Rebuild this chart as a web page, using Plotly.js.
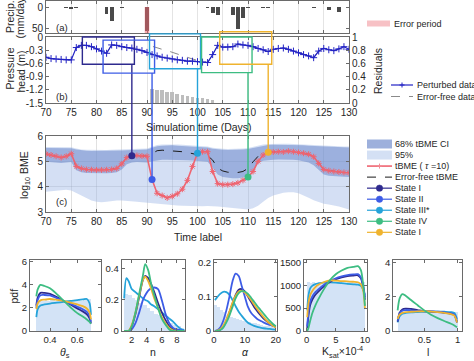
<!DOCTYPE html>
<html><head><meta charset="utf-8">
<script src="https://cdn.plot.ly/plotly-3.0.1.min.js"></script>
<style>html,body{margin:0;padding:0;background:#fff}#chart{width:474px;height:361px}</style>
</head><body><div id="chart"></div>
<script>
// ================= DATA =================
const days = [70,71,72,73,74,75,76,77,78,79,80,81,82,83,84,85,86,87,88,89,90,91,92,93,94,95,96,97,98,99,100,101,102,103,104,105,106,107,108,109,110,111,112,113,114,115,116,117,118,119,120,121,122,123,124,125,126,127,128,129,130];
const dayTicks = [70,75,80,85,90,95,100,105,110,115,120,125,130];

// (a) precipitation
const precipDays = [74,75,76,82,83,85,90,102,103,104,107,108,109,110,113,114,123,126,128];
const precipVals = [2,4,3,17,33,3,57,2,15,19,18,52,25,2,1.5,1.5,3,7,13];
const errorDay = 90;

// (b) pressure head & residuals
const perturbed = [-0.46,-0.49,-0.5,-0.51,-0.52,-0.52,-0.24,-0.19,-0.19,-0.22,
 -0.27,-0.32,-0.37,-0.18,-0.19,-0.22,-0.24,-0.25,-0.28,-0.31,
 -0.35,-0.4,-0.43,-0.46,-0.48,-0.5,-0.52,-0.53,-0.55,-0.55,
 -0.56,-0.57,-0.58,-0.4,-0.19,-0.23,-0.23,-0.22,-0.16,-0.18,
 -0.19,-0.22,-0.26,-0.29,-0.33,-0.28,-0.26,-0.25,-0.28,-0.32,
 -0.36,-0.4,-0.43,-0.47,-0.32,-0.26,-0.29,-0.31,-0.27,-0.22,
 -0.28];
const errorFree = [-0.46,-0.49,-0.5,-0.51,-0.52,-0.52,-0.24,-0.19,-0.19,-0.22,
 -0.27,-0.32,-0.37,-0.18,-0.19,-0.22,-0.24,-0.25,-0.28,-0.31,
 -0.35,-0.21,-0.25,-0.28,-0.31,-0.35,-0.38,-0.42,-0.46,-0.5,
 -0.53,-0.56,-0.58,-0.4,-0.19,-0.23,-0.23,-0.22,-0.16,-0.18,
 -0.19,-0.22,-0.26,-0.29,-0.33,-0.28,-0.26,-0.25,-0.28,-0.32,
 -0.36,-0.4,-0.43,-0.47,-0.32,-0.26,-0.29,-0.31,-0.27,-0.22,
 -0.28];
const residDays = [91,92,93,94,95,96,97,98,99,100,101,102,103];
const residVals = [0.21,0.2,0.19,0.17,0.16,0.14,0.12,0.1,0.09,0.08,0.07,0.06,0.05];

// (c) tBME
const tBME = [5.29,5.25,5.2,5.15,5.2,5.3,4.8,4.72,4.68,4.67,
 4.66,4.66,4.67,4.68,4.72,4.9,5.15,5.22,5.23,5.21,
 5.2,4.28,3.74,3.65,3.56,3.62,3.72,3.9,4.25,4.8,
 5.32,5.38,5.38,4.6,4.12,4.08,4.08,4.1,4.15,4.25,
 4.38,4.6,5.0,5.25,5.36,5.37,5.38,5.37,5.4,5.38,
 5.35,5.32,5.28,5.18,4.92,4.68,4.63,4.6,4.58,4.56,
 4.55];
const tBMEfree = [5.29,5.25,5.2,5.15,5.2,5.3,4.8,4.72,4.68,4.67,
 4.66,4.66,4.67,4.68,4.72,4.9,5.15,5.22,5.23,5.21,
 5.2,5.3,5.42,5.44,5.43,5.42,5.4,5.38,5.35,5.3,
 5.26,5.24,5.22,5.05,4.73,4.62,4.57,4.56,4.56,4.6,
 4.72,4.98,5.2,5.3,5.36,5.37,5.38,5.37,5.4,5.38,
 5.35,5.32,5.28,5.18,4.92,4.68,4.63,4.6,4.58,4.56,
 4.55];
const ci68hi = [5.53,5.53,5.53,5.53,5.53,5.52,5.47,5.43,5.42,5.41,
 5.41,5.41,5.41,5.42,5.42,5.43,5.44,5.45,5.45,5.45,
 5.47,5.54,5.6,5.62,5.63,5.63,5.62,5.61,5.6,5.59,
 5.58,5.57,5.55,5.5,5.47,5.46,5.45,5.45,5.46,5.47,
 5.49,5.53,5.59,5.62,5.64,5.65,5.65,5.65,5.65,5.64,
 5.64,5.63,5.62,5.61,5.59,5.57,5.56,5.55,5.55,5.55,
 5.55];
const ci68lo = [4.98,4.97,4.95,4.93,4.95,4.97,4.65,4.57,4.54,4.53,
 4.52,4.52,4.53,4.54,4.57,4.68,4.88,4.95,4.97,4.96,
 4.95,5.0,5.04,5.06,5.06,5.06,5.05,5.05,5.04,5.03,
 5.02,5.0,4.98,4.75,4.48,4.38,4.34,4.33,4.33,4.36,
 4.45,4.68,4.92,5.02,5.05,5.06,5.07,5.07,5.07,5.06,
 5.04,5.0,4.95,4.85,4.65,4.48,4.43,4.41,4.4,4.39,
 4.38];
const ci95hi = [5.57,5.57,5.57,5.57,5.57,5.56,5.51,5.47,5.46,5.45,
 5.45,5.45,5.45,5.46,5.46,5.47,5.48,5.49,5.49,5.49,
 5.51,5.58,5.64,5.66,5.67,5.67,5.66,5.65,5.64,5.63,
 5.62,5.61,5.59,5.54,5.51,5.5,5.49,5.49,5.5,5.51,
 5.53,5.57,5.63,5.66,5.68,5.69,5.69,5.69,5.69,5.68,
 5.68,5.67,5.66,5.65,5.63,5.61,5.6,5.59,5.59,5.59,
 5.59];
const ci95lo = [3.8,3.82,3.85,3.87,3.88,3.85,3.75,3.62,3.52,3.45,
 3.4,3.38,3.4,3.43,3.45,3.45,3.44,3.42,3.4,3.38,
 3.36,3.34,3.32,3.3,3.29,3.27,3.26,3.25,3.24,3.23,
 3.23,3.23,3.24,3.24,3.22,3.2,3.18,3.16,3.13,3.11,
 3.1,3.15,3.25,3.4,3.55,3.65,3.72,3.76,3.78,3.78,
 3.74,3.66,3.56,3.46,3.38,3.33,3.3,3.27,3.22,3.16,
 3.1];
const stateNames = ['State I','State II','State III*','State IV','State I'];
const stateTimes = [87,91,100,110,114];

// posterior / prior pdfs
const thX = [0.3,0.31,0.33,0.36,0.4,0.45,0.5,0.55,0.6,0.64,0.67,0.69,0.7];
const thS1 = [2.2,2.9,3.3,3.3,3.22,2.95,2.6,2.3,1.96,1.7,1.45,1.1,0.65];
const thS2 = [2.0,2.7,3.1,3.12,3.08,2.85,2.6,2.35,2.1,1.88,1.65,1.3,0.8];
const thS3 = [1.2,1.9,2.2,2.3,2.38,2.45,2.52,2.6,2.68,2.73,2.77,2.4,1.4];
const thS4 = [3.0,3.6,4.0,3.9,3.7,3.2,2.62,2.05,1.55,1.25,1.0,0.78,0.62];
const thS5 = [1.9,2.4,2.65,2.72,2.77,2.7,2.6,2.45,2.3,2.15,1.95,1.6,1.0];
const thPriorX = [0.31,0.33,0.35,0.37,0.39,0.41,0.43,0.45,0.47,0.49,0.51,0.53,0.55,0.57,0.59,0.61,0.63,0.65,0.67,0.69];
const thPrior = [2.6,2.68,2.62,2.7,2.64,2.66,2.72,2.6,2.65,2.7,2.62,2.68,2.66,2.6,2.7,2.66,2.62,2.7,2.74,2.8];

const nX = [1,1.3,1.6,2,2.5,3,3.5,3.8,4.2,4.6,5,5.5,6,6.5,7,7.5,8,8.5,9];
const nS1 = [0,0,0,0.03,0.11,0.22,0.33,0.355,0.34,0.3,0.25,0.18,0.12,0.07,0.03,0.01,0,0,0];
const nS2 = [0,0,0,0.01,0.05,0.12,0.2,0.23,0.26,0.275,0.28,0.27,0.2,0.11,0.05,0.02,0.01,0.005,0];
const nS3 = [0.21,0.34,0.32,0.27,0.25,0.23,0.21,0.2,0.19,0.17,0.16,0.14,0.12,0.1,0.08,0.06,0.035,0.015,0.005];
const nS4 = [0,0,0,0.03,0.12,0.24,0.36,0.43,0.39,0.3,0.23,0.15,0.08,0.04,0.01,0,0,0,0];
const nS5 = [0,0,0,0.04,0.12,0.23,0.33,0.35,0.32,0.27,0.21,0.15,0.09,0.05,0.02,0.005,0,0,0];
const nPriorX = [1.25,1.75,2.25,2.75,3.25,3.75,4.25,4.75,5.25,5.75,6.25,6.75,7.25,7.75,8.25,8.75];
const nPrior = [0.24,0.23,0.21,0.2,0.18,0.17,0.15,0.13,0.11,0.1,0.08,0.07,0.05,0.04,0.03,0.02];

const aX = [0.3,1,2,3,4,5,6,7,8,9,10,11,12,13,14,15,16,17,18,19,20];
const aS1 = [0,0.001,0.004,0.012,0.03,0.055,0.08,0.105,0.12,0.122,0.115,0.1,0.085,0.07,0.058,0.047,0.037,0.029,0.022,0.016,0.012];
const aS2 = [0,0.002,0.01,0.03,0.06,0.1,0.145,0.167,0.16,0.13,0.1,0.07,0.053,0.043,0.035,0.03,0.025,0.021,0.018,0.015,0.012];
const aS3 = [0.09,0.098,0.108,0.114,0.113,0.105,0.09,0.072,0.056,0.044,0.033,0.024,0.019,0.015,0.012,0.01,0.008,0.007,0.006,0.005,0.004];
const aS4 = [0,0,0.003,0.01,0.025,0.045,0.07,0.095,0.11,0.116,0.115,0.108,0.097,0.085,0.073,0.062,0.051,0.04,0.03,0.021,0.014];
const aS5 = [0,0.001,0.005,0.015,0.033,0.057,0.083,0.103,0.115,0.117,0.112,0.102,0.09,0.077,0.064,0.052,0.041,0.031,0.022,0.015,0.01];
const aPriorX = [0.5,1.5,2.5,3.5,4.5,5.5,6.5,7.5,8.5,9.5,10.5,11.5,12.5,13.5,14.5,15.5,16.5,17.5,18.5,19.5];
const aPrior = [0.076,0.07,0.062,0.055,0.048,0.042,0.038,0.035,0.032,0.03,0.028,0.026,0.024,0.022,0.02,0.018,0.016,0.014,0.012,0.01];

const kX = [0.1,0.3,0.6,1,1.5,2,3,4,5,6,7,8,8.8,9.3,9.7,10];
const kS1 = [60,320,560,690,790,860,980,1070,1130,1170,1200,1210,1215,1150,950,680];
const kS2 = [100,400,640,760,850,910,1010,1090,1150,1190,1220,1235,1240,1170,990,740];
const kS3 = [450,760,930,990,1025,1040,1058,1062,1058,1045,1030,1020,1010,985,900,790];
const kS4 = [0,60,220,400,560,690,920,1110,1240,1320,1380,1400,1415,1330,1000,550];
const kS5 = [300,600,780,880,960,1010,1070,1105,1100,1090,1085,1075,1065,1020,880,480];
const kPriorX = [0.25,0.75,1.25,1.75,2.25,2.75,3.25,3.75,4.25,4.75,5.25,5.75,6.25,6.75,7.25,7.75,8.25,8.75,9.25,9.75];
const kPrior = [1060,1045,1075,1050,1068,1035,1058,1050,1078,1042,1060,1070,1052,1040,1062,1080,1048,1060,1042,1070];

const lX = [0.1,0.13,0.17,0.22,0.3,0.4,0.5,0.6,0.7,0.8,0.9,0.95,0.99];
const lS1 = [0.55,1.05,1.25,1.3,1.28,1.22,1.16,1.13,1.1,1.06,1.0,0.92,0.5];
const lS2 = [0.6,1.0,1.18,1.22,1.2,1.17,1.15,1.14,1.12,1.08,1.03,0.95,0.55];
const lS3 = [0.5,0.85,1.0,1.05,1.08,1.1,1.12,1.13,1.13,1.12,1.1,1.05,0.7];
const lS4 = [1.2,1.9,2.15,2.05,1.8,1.5,1.2,0.95,0.75,0.58,0.42,0.32,0.22];
const lS5 = [0.7,0.95,1.05,1.1,1.12,1.14,1.15,1.13,1.1,1.05,0.98,0.9,0.5];
const lPriorX = [0.125,0.175,0.225,0.275,0.325,0.375,0.425,0.475,0.525,0.575,0.625,0.675,0.725,0.775,0.825,0.875,0.925,0.975];
const lPrior = [1.1,1.12,1.08,1.14,1.1,1.09,1.13,1.1,1.11,1.08,1.12,1.1,1.09,1.13,1.1,1.11,1.08,1.1];

// ================= STYLE / LAYOUT =================
const W = 474, H = 361;
const px = x => x / W, py = y => 1 - y / H;
const FONT = 'Liberation Sans, Arial, Helvetica, sans-serif';
const AXC = '#6a6a6a', TXT = '#262626';
const stateColors = ['#2e2a8e','#3d5ce6','#25a3d9','#3dbd82','#efb32e'];
// window boxes drawn in panel (b): x extents (days) and pressure-head extents
const boxCfg = {x0:[77.2,81.3,90.5,100.8,104.4], x1:[87.5,91.5,100.6,110.8,114.7],
                top:[0.0,-0.07,0.07,0.0,0.12], bot:[-0.62,-0.82,-0.72,-0.81,-0.62]};

const DX = [px(46), px(349)];
const DA = [py(33), py(0.5)], DB = [py(103), py(37)], DC = [py(212), py(136)], DD = [py(331), py(260)];
const RA = [61.9, -15.5], RB = [-1.5, 0], RC = [3, 6];
function toPaper(dom, rng, v){ return dom[0] + (v - rng[0]) / (rng[1] - rng[0]) * (dom[1] - dom[0]); }

function ax(extra){
  return Object.assign({showline:true, linecolor:AXC, linewidth:1, ticks:'inside', ticklen:3,
    tickcolor:AXC, tickwidth:1, zeroline:false, showgrid:false, fixedrange:true,
    tickfont:{size:10, color:TXT, family:FONT}}, extra);
}

const traces = [];
// (a)
traces.push({type:'bar', x:precipDays, y:precipVals, xaxis:'x', yaxis:'y', width:0.75,
  marker:{color:'#4a4a4a', line:{width:0}}, hoverinfo:'skip'});
// (b)
traces.push({type:'bar', x:residDays, y:residVals, xaxis:'x2', yaxis:'y2', width:0.72,
  marker:{color:'#bdbdbd', line:{width:0}}});
traces.push({type:'scatter', mode:'lines', x:days, y:errorFree, xaxis:'x2', yaxis:'y3',
  line:{color:'#8a8a8a', width:1, dash:'dash'}});
traces.push({type:'scatter', mode:'lines+markers', x:days, y:perturbed, xaxis:'x2', yaxis:'y3',
  line:{color:'#2323c4', width:1.2},
  marker:{symbol:'cross-thin-open', size:5, line:{color:'#2323c4', width:1}}});
// (c)
traces.push({type:'scatter', mode:'lines', x:days, y:ci95lo, xaxis:'x3', yaxis:'y4', line:{width:0, color:'rgba(0,0,0,0)'}});
traces.push({type:'scatter', mode:'lines', x:days, y:ci95hi, xaxis:'x3', yaxis:'y4', line:{width:0, color:'rgba(0,0,0,0)'},
  fill:'tonexty', fillcolor:'rgba(160,185,230,0.45)'});
traces.push({type:'scatter', mode:'lines', x:days, y:ci68lo, xaxis:'x3', yaxis:'y4', line:{width:0, color:'rgba(0,0,0,0)'}});
traces.push({type:'scatter', mode:'lines', x:days, y:ci68hi, xaxis:'x3', yaxis:'y4', line:{width:0, color:'rgba(0,0,0,0)'},
  fill:'tonexty', fillcolor:'rgba(100,130,200,0.5)'});
traces.push({type:'scatter', mode:'lines', x:days, y:tBMEfree, xaxis:'x3', yaxis:'y4',
  line:{color:'#1a1a1a', width:1, dash:'dash'}});
traces.push({type:'scatter', mode:'lines+markers', x:days, y:tBME, xaxis:'x3', yaxis:'y4',
  line:{color:'#ef6470', width:1.6},
  marker:{symbol:'asterisk-open', size:5, line:{color:'#f28a94', width:1}}});
stateTimes.forEach((t,i)=>{
  traces.push({type:'scatter', mode:'markers', x:[t], y:[tBME[days.indexOf(t)]], xaxis:'x3', yaxis:'y4',
    marker:{size:7, color:stateColors[i], line:{width:0}}});
});

// bottom pdf panels
const bottomPanels = [
  {px0:30, px1:100.7, xr:[0.2535,0.7714], xt:[0.4,0.6], yr:[0,6.15], yt:[0,2,4,6], priorX:thPriorX, prior:thPrior, bw:0.02, cx:thX, cs:[thS1,thS2,thS3,thS4,thS5]},
  {px0:121.7, px1:185, xr:[0.67,9.09], xt:[2,4,6,8], yr:[0,0.457], yt:[0,0.2,0.4], priorX:nPriorX, prior:nPrior, bw:0.5, cx:nX, cs:[nS1,nS2,nS3,nS4,nS5]},
  {px0:214, px1:277, xr:[0,20.4], xt:[0,10,20], yr:[0,0.2067], yt:[0,0.1,0.2], priorX:aPriorX, prior:aPrior, bw:1, cx:aX, cs:[aS1,aS2,aS3,aS4,aS5]},
  {px0:304, px1:367.3, xr:[-0.45,10.4], xt:[0,5,10], yr:[0,1550], yt:[0,500,1000,1500], priorX:kPriorX, prior:kPrior, bw:0.5, cx:kX, cs:[kS1,kS2,kS3,kS4,kS5]},
  {px0:393.3, px1:461.7, xr:[0.035,1.06], xt:[0.5,1], yr:[0,4.13], yt:[0,2,4], priorX:lPriorX, prior:lPrior, bw:0.05, cx:lX, cs:[lS1,lS2,lS3,lS4,lS5]}
];
const layout = {
  width:W, height:H, margin:{l:0,r:0,t:0,b:0}, paper_bgcolor:'#fff', plot_bgcolor:'rgba(0,0,0,0)',
  showlegend:false, font:{family:FONT, size:10, color:TXT}, bargap:0,
  xaxis: ax({domain:DX, anchor:'y', range:[70,130], tickvals:dayTicks, showticklabels:false, mirror:'ticks', showgrid:true, gridcolor:'#e4e4e4'}),
  yaxis: ax({domain:DA, anchor:'x', range:RA, tickvals:[0,50], mirror:'ticks'}),
  xaxis2: ax({domain:DX, anchor:'y2', range:[70,130], tickvals:dayTicks, mirror:'ticks', showgrid:true, gridcolor:'#e4e4e4'}),
  yaxis2: ax({domain:DB, anchor:'x2', side:'right', range:[0,1], tickvals:[0,0.2,0.4,0.6,0.8,1]}),
  yaxis3: ax({overlaying:'y2', anchor:'x2', side:'left', range:RB, tickvals:[0,-0.3,-0.6,-0.9,-1.2,-1.5], ticktext:['0','-0.3','-0.6','-0.9','-1.2','-1.5']}),
  xaxis3: ax({domain:DX, anchor:'y4', range:[70,130], tickvals:dayTicks, mirror:'ticks', showgrid:true, gridcolor:'rgba(90,90,90,0.18)', layer:'above traces'}),
  yaxis4: ax({domain:DC, anchor:'x3', range:RC, tickvals:[3,4,5,6], mirror:'ticks', showgrid:true, gridcolor:'rgba(90,90,90,0.18)'}),
  shapes:[], annotations:[]
};
bottomPanels.forEach((p,k)=>{
  const xi = 4 + k, yi = 5 + k;
  layout['xaxis'+xi] = ax({domain:[px(p.px0), px(p.px1)], anchor:'y'+yi, range:p.xr, tickvals:p.xt, mirror:'ticks', tickfont:{size:9.5,color:TXT,family:FONT}});
  layout['yaxis'+yi] = ax({domain:DD, anchor:'x'+xi, range:p.yr, tickvals:p.yt, mirror:'ticks', tickfont:{size:9.5,color:TXT,family:FONT}});
  traces.push({type:'bar', x:p.priorX, y:p.prior, width:p.bw, xaxis:'x'+xi, yaxis:'y'+yi,
    marker:{color:'#d3e3f6', line:{width:0}}});
  const order = [2,0,1,4,3];
  order.forEach(s=>{
    traces.push({type:'scatter', mode:'lines', x:p.cx, y:p.cs[s], xaxis:'x'+xi, yaxis:'y'+yi,
      line:{color:stateColors[s], width:1.8, shape:'spline', smoothing:0.8}});
  });
});

const shapes = layout.shapes, ann = layout.annotations;
// error period
shapes.push({type:'rect', xref:'x', yref:'y', x0:errorDay-0.45, x1:errorDay+0.45, y0:0, y1:RA[0],
  fillcolor:'rgba(235,100,110,0.55)', line:{width:0}, layer:'above'});
// state windows and connectors
stateTimes.forEach((t,i)=>{
  const c = stateColors[i];
  shapes.push({type:'rect', xref:'x2', yref:'paper', x0:boxCfg.x0[i], x1:boxCfg.x1[i],
    y0:toPaper(DB,RB,boxCfg.bot[i]), y1:toPaper(DB,RB,boxCfg.top[i]), line:{color:c, width:1.4}, fillcolor:'rgba(0,0,0,0)'});
  shapes.push({type:'line', xref:'x3', yref:'paper', x0:t, x1:t,
    y0:toPaper(DB,RB,boxCfg.bot[i]), y1:toPaper(DC,RC,tBME[days.indexOf(t)]), line:{color:c, width:1.4}});
});

// helpers for manual legends / labels
function pline(x0,y0,x1,y1,color,width,dash){shapes.push({type:'line',xref:'paper',yref:'paper',x0:px(x0),y0:py(y0),x1:px(x1),y1:py(y1),line:{color:color,width:width,dash:dash||'solid'}});}
function prect(x0,y0,x1,y1,fill){shapes.push({type:'rect',xref:'paper',yref:'paper',x0:px(x0),y0:py(y1),x1:px(x1),y1:py(y0),fillcolor:fill,line:{width:0}});}
function pcirc(cx,cy,r,color){shapes.push({type:'circle',xref:'paper',yref:'paper',x0:px(cx-r),x1:px(cx+r),y0:py(cy+r),y1:py(cy-r),fillcolor:color,line:{color:color,width:0.5}});}
function ptext(x,y,text,o){ann.push(Object.assign({xref:'paper',yref:'paper',x:px(x),y:py(y),text:text,showarrow:false,
  xanchor:'left',yanchor:'middle',borderpad:0,font:{size:9,color:TXT,family:FONT}},o||{}));}
function plus(cx,cy,s,color){pline(cx-s,cy,cx+s,cy,color,1);pline(cx,cy-s,cx,cy+s,color,1);}

// legend (a)
prect(367,20.5,390,26.5,'#f7c1c5'); ptext(393,23.5,'Error period');
// legend (b)
pline(391,85,413,85,'#2323c4',1.2); plus(402,85,2.5,'#2323c4'); ptext(416,85,'Perturbed data');
pline(391,96.5,413,96.5,'#8a8a8a',1,'dash'); ptext(416,96.5,'Error-free data');
// legend (c)
const rowY = i => 144 + 11.04*i;
prect(367,rowY(0)-4.5,392,rowY(0)+4.5,'#9db0dc'); ptext(394,rowY(0),'68% tBME CI');
prect(367,rowY(1)-4.5,392,rowY(1)+4.5,'#d4e0f4'); ptext(394,rowY(1),'95%');
pline(367,rowY(2),392,rowY(2),'#ef6470',1.6); plus(379.5,rowY(2),2.5,'#f28a94'); ptext(394,rowY(2),'tBME ( <i>τ</i> =10)');
pline(367,rowY(3),392,rowY(3),'#1a1a1a',1,'dash'); ptext(394,rowY(3),'Error-free tBME');
stateNames.forEach((n,i)=>{
  pline(367,rowY(4+i),392,rowY(4+i),stateColors[i],1.2); pcirc(379.5,rowY(4+i),3.2,stateColors[i]); ptext(394,rowY(4+i),n);
});

// axis titles & panel labels
const T = {size:10.5, color:TXT, family:FONT};
function title(x,y,text,rot){ann.push({xref:'paper',yref:'paper',x:px(x),y:py(y),text:text,showarrow:false,
  xanchor:'center',yanchor:'middle',textangle:rot||0,borderpad:0,font:T});}
title(10,17,'Precip.',-90); title(19.5,17,'(mm/day)',-90);
title(9.5,69,'Pressure',-90); title(20.5,72,'head (m)',-90);
title(378,71,'Residuals',-90);
title(199,126.5,'Simulation time (Days)');
title(25,175,'log<sub>10</sub> BME',-90);
title(198,236.5,'Time label');
title(13.5,296,'pdf',-90);
title(65,353,'<i>θ</i><sub>s</sub>');
title(153.3,352,'n');
title(245.5,352,'<i>α</i>');
title(342,352,'K<sub>sat</sub>×10<sup>-4</sup>');
title(427.5,352,'l');
ptext(55,27.5,'(a)',{font:{size:9.5,color:TXT,family:FONT}});
ptext(55,96.5,'(b)',{font:{size:9.5,color:TXT,family:FONT}});
ptext(55,201.5,'(c)',{font:{size:9.5,color:TXT,family:FONT}});

Plotly.newPlot('chart', traces, layout, {staticPlot:true, displayModeBar:false});
</script>
</body></html>
